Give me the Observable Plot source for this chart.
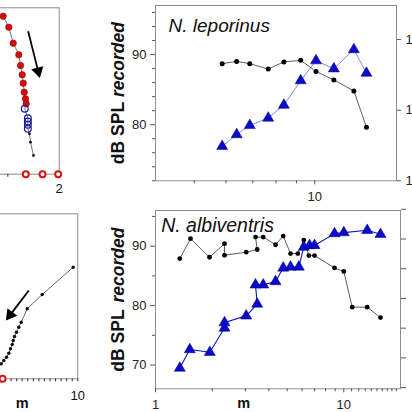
<!DOCTYPE html>
<html><head><meta charset="utf-8">
<script src="https://cdn.jsdelivr.net/npm/d3@7"></script>
<script src="https://cdn.jsdelivr.net/npm/@observablehq/plot@0.6"></script>
<style>
body{margin:0;background:#fff;}
#fig{position:relative;width:412px;height:412px;overflow:hidden;background:#fff;}
.panel{position:absolute;}
.panel svg{overflow:visible;max-width:none;}
</style></head><body><div id="fig"></div>
<script>
// ---------- Data ----------
// Top-left panel (partial view): filled red points, open blue points, small black points
const tlRedX = [1.455, 1.510, 1.553, 1.607, 1.624, 1.640, 1.650, 1.660, 1.672, 1.679];
const tlRedY = [94.95, 88.34, 78.73, 71.75, 65.32, 59.74, 54.69, 49.28, 45.31, 42.31];
const tlBlueX = [1.665, 1.695, 1.695, 1.695, 1.695];
const tlBlueY = [39.30, 33.65, 31.67, 29.69, 27.28];
const tlBlackX = [1.711, 1.721, 1.750];
const tlBlackY = [24.28, 19.23, 11.24];
const tlOpenX = [1.675, 1.838, 1.990];
const tlXTickMinor = [1.5];
const tlXTickLabel = [2];

// Bottom-left panel (partial view)
const blX = [3.112, 3.345, 3.588, 3.795, 3.948, 4.101, 4.191, 4.308, 4.487, 4.694, 4.910, 5.450, 6.799, 9.586];
const blY = [9.09, 11.09, 13.09, 15.52, 18.18, 20.79, 23.21, 25.64, 28.24, 31.27, 34.30, 42.42, 51.09, 67.64];
const blOpenX = [3.228];
const blXTickMinor = d3.range(0.5, 10, 0.5);
const blXTickLabel = [10];

// N. leporinus (top right): distance (m, log) vs dB SPL recorded
const lepDist = [5.87, 6.38, 6.88, 7.65, 8.37, 9.22, 10.07, 11.16, 12.52, 13.46];
const lepDots = [88.70, 89.03, 88.70, 87.94, 88.95, 89.18, 87.59, 86.39, 84.81, 79.65];
const lepTris = [76.91, 78.60, 79.90, 80.95, 82.79, 86.29, 89.13, 87.98, 90.72, 87.36];
const lepYMajor = [80, 90];
const lepYMinor = [72, 74, 76, 78, 82, 84, 86, 88, 92, 94, 96];
const lepXMinor = [5, 6, 7, 8, 9];
const lepXLabel = [10];
const lepRightTicks = [72, 82.06, 92.16];
const lepRightLabels = ["1", "1", "1"];   // only the leading digit is visible in the cropped figure

// N. albiventris (bottom right)
const albDotDist = [1.346, 1.534, 1.936, 2.325, 2.325, 3.031, 3.468, 3.397, 3.733, 4.339, 4.767, 5.212, 5.697, 6.132, 6.520, 6.988, 8.926, 10.0, 11.08, 13.31, 15.66];
const albDots = [87.91, 91.26, 88.13, 90.41, 88.47, 88.98, 89.44, 91.53, 91.53, 90.24, 91.70, 88.76, 88.76, 91.02, 88.42, 88.42, 86.33, 85.75, 79.74, 79.74, 77.99];
const albTriDist = [1.346, 1.521, 1.943, 2.325, 2.325, 3.031, 3.468, 3.397, 3.733, 4.339, 4.767, 5.212, 5.768, 6.132, 6.575, 6.988, 8.926, 10.0, 13.31, 15.66];
const albTris = [69.49, 72.60, 72.14, 76.22, 77.14, 78.27, 80.26, 83.49, 83.49, 84.05, 86.33, 86.50, 86.50, 89.83, 90.12, 90.12, 92.11, 92.28, 92.67, 91.99];
const albYMajor = [70, 80, 90];
const albYMinor = [75, 85, 95];
const albXMinor = [2, 3, 4, 5, 6, 7, 8, 9, 11, 12, 13, 14, 15, 16, 17, 18, 19];
const albXLabel = [1, 10];
const albRightTicks = [66.2, 71.2, 76.2, 81.2, 86.2, 91.2, 96.2];

// Annotation arrows (data units of their panels): start, head centre
const tlArrow = {x1: 1.698, y1: 85.94, x2: 1.795, y2: 61.96};
const blArrow = {x1: 5.594, y1: 53.52, x2: 3.921, y2: 38.73};

// ---------- Helpers ----------
const FONT = "'Liberation Sans', Arial, Helvetica, sans-serif";
const frameColor = "#8c8c8c";
const baseStyle = {fontFamily: FONT, fontSize: "13px", overflow: "visible", background: "transparent", maxWidth: "none", color: "#111"};
const fig = document.getElementById("fig");
function place(svg, left, top) {
  const d = document.createElement("div");
  d.className = "panel";
  d.style.left = left + "px";
  d.style.top = top + "px";
  d.appendChild(svg);
  fig.appendChild(d);
}
const zip = (xs, ys) => xs.map((x, i) => ({x, y: ys[i]}));
const blank = () => "";

function splLabel(dx, halfSpan) {
  return [
    Plot.text(["dB SPL"], {frameAnchor: "left", rotate: -90, textAnchor: "start", lineAnchor: "middle", dx, dy: halfSpan, fontWeight: "bold", fontSize: 17.5, fill: "#111"}),
    Plot.text(["recorded"], {frameAnchor: "left", rotate: -90, textAnchor: "end", lineAnchor: "middle", dx, dy: -halfSpan, fontWeight: "bold", fontStyle: "italic", fontSize: 17.5, fill: "#111"})
  ];
}

// ---------- Top-left panel ----------
const tlAll = [...zip(tlRedX, tlRedY), ...zip(tlBlueX, tlBlueY), ...zip(tlBlackX, tlBlackY)];
place(Plot.plot({
  width: 180, height: 210, marginLeft: 40.2, marginRight: 11.3, marginTop: 7.3, marginBottom: 36.3,
  style: baseStyle,
  x: {domain: [0.75, 2]}, y: {domain: [0, 100], axis: null},
  marks: [
    Plot.frame({stroke: frameColor}),
    Plot.axisX({ticks: tlXTickMinor, tickSize: 3, tickFormat: blank, stroke: "#333", label: null}),
    Plot.axisX({ticks: tlXTickLabel, tickSize: 0, tickPadding: 10, tickFormat: d => String(d), label: null, fill: "#111"}),
    Plot.line(tlAll, {x: "x", y: "y", stroke: "#555", strokeWidth: 0.8}),
    Plot.dot(zip(tlRedX, tlRedY), {x: "x", y: "y", r: 3.2, fill: "#d10f0f", stroke: "#a00000", strokeWidth: 0.6}),
    Plot.dot(zip(tlBlueX, tlBlueY), {x: "x", y: "y", r: 3.4, fill: "none", stroke: "#1a1a9a", strokeWidth: 1.2}),
    Plot.dot(zip(tlBlackX, tlBlackY), {x: "x", y: "y", r: 1.4, fill: "#111"}),
    Plot.dot(tlOpenX, {x: d => d, y: () => 0, r: 3, fill: "white", stroke: "#d41414", strokeWidth: 2}),
    Plot.link([tlArrow], {x1: "x1", y1: "y1", x2: "x2", y2: "y2", stroke: "#000", strokeWidth: 1.8}),
    Plot.dot([tlArrow], {x: "x2", y: "y2", symbol: "triangle", r: 4.6, fill: "#000", rotate: 166})
  ]
}), -110, 0);

// ---------- Bottom-left panel ----------
place(Plot.plot({
  width: 150, height: 207, marginLeft: 26.1, marginRight: 12.7, marginTop: 8.3, marginBottom: 33.7,
  style: baseStyle,
  x: {domain: [0, 10]}, y: {domain: [0, 100], axis: null},
  marks: [
    Plot.frame({stroke: frameColor}),
    Plot.axisX({ticks: blXTickMinor, tickSize: 3, tickFormat: blank, stroke: "#333", label: null}),
    Plot.axisX({ticks: blXTickLabel, tickSize: 3, tickPadding: 8.8, tickFormat: d => String(d), stroke: "#333", label: null, fill: "#111"}),
    Plot.text(["m"], {x: () => 5, frameAnchor: "bottom", dy: 29.2, lineAnchor: "bottom", fontWeight: "bold", fontSize: 14.5, fill: "#111"}),
    Plot.line(zip(blX, blY), {x: "x", y: "y", stroke: "#444", strokeWidth: 0.8}),
    Plot.dot(zip(blX, blY), {x: "x", y: "y", r: 1.7, fill: "#111"}),
    Plot.dot(blOpenX, {x: d => d, y: () => 0, r: 3, fill: "white", stroke: "#d41414", strokeWidth: 2}),
    Plot.link([blArrow], {x1: "x1", y1: "y1", x2: "x2", y2: "y2", stroke: "#000", strokeWidth: 1.8}),
    Plot.dot([blArrow], {x: "x2", y: "y2", symbol: "triangle", r: 4.6, fill: "#000", rotate: 217})
  ]
}), -60, 205);

// ---------- Top-right panel: N. leporinus ----------
const rightMapTR = new Map(lepRightTicks.map((t, i) => [t, lepRightLabels[i]]));
place(Plot.plot({
  width: 312, height: 210, marginLeft: 55, marginRight: 16, marginTop: 5, marginBottom: 29.7,
  style: baseStyle,
  x: {type: "log", domain: [4, 16]}, y: {domain: [72, 97]},
  marks: [
    Plot.frame({stroke: frameColor}),
    Plot.axisY({ticks: lepYMinor, tickSize: 3, tickFormat: blank, stroke: "#555", label: null}),
    Plot.axisY({ticks: lepYMajor, tickSize: 5, tickPadding: 4, tickFormat: d => String(d), stroke: "#555", fill: "#222", label: null}),
    Plot.axisY({anchor: "right", ticks: lepRightTicks, tickSize: 4, tickPadding: 5, tickFormat: d => rightMapTR.get(d), stroke: "#555", fill: "#222", label: null}),
    Plot.axisX({ticks: lepXMinor, tickSize: 3, tickFormat: blank, stroke: "#555", label: null}),
    Plot.axisX({ticks: lepXLabel, tickSize: 4, tickPadding: 6.5, tickFormat: d => String(d), stroke: "#555", fill: "#222", label: null}),
    ...splLabel(-37, 71),
    Plot.text(["N. leporinus"], {frameAnchor: "top-left", dx: 13, dy: 26.7, lineAnchor: "bottom", textAnchor: "start", fontStyle: "italic", fontSize: 19, fill: "#111"}),
    Plot.line(zip(lepDist, lepTris), {x: "x", y: "y", stroke: "#7a7ad8", strokeWidth: 0.9}),
    Plot.line(zip(lepDist, lepDots), {x: "x", y: "y", stroke: "#333", strokeWidth: 0.8}),
    Plot.dot(zip(lepDist, lepDots), {x: "x", y: "y", r: 2.5, fill: "#000"}),
    Plot.dot(zip(lepDist, lepTris), {x: "x", y: "y", symbol: "triangle", r: 4.1, fill: "#0a0ac8", stroke: "#000080", strokeWidth: 0.5})
  ]
}), 100, 0);

// ---------- Bottom-right panel: N. albiventris ----------
place(Plot.plot({
  width: 312, height: 207, marginLeft: 55, marginRight: 12, marginTop: 5, marginBottom: 23.7,
  style: baseStyle,
  x: {type: "log", domain: [1, 20]}, y: {domain: [66, 96]},
  marks: [
    Plot.frame({stroke: frameColor}),
    Plot.axisY({ticks: albYMinor, tickSize: 3, tickFormat: blank, stroke: "#555", label: null}),
    Plot.axisY({ticks: albYMajor, tickSize: 5, tickPadding: 4, tickFormat: d => String(d), stroke: "#555", fill: "#222", label: null}),
    Plot.axisY({anchor: "right", ticks: albRightTicks, tickSize: 5, tickPadding: 6, tickFormat: blank, stroke: "#555", label: null}),
    Plot.axisX({ticks: albXMinor, tickSize: 3, tickFormat: blank, stroke: "#555", label: null}),
    Plot.axisX({ticks: albXLabel, tickSize: 4, tickPadding: 7, tickFormat: d => String(d), stroke: "#555", fill: "#222", label: null}),
    Plot.text(["m"], {frameAnchor: "bottom-left", dx: 81.7, dy: 19, lineAnchor: "bottom", fontWeight: "bold", fontSize: 14.5, fill: "#111"}),
    ...splLabel(-37, 72),
    Plot.text(["N. albiventris"], {frameAnchor: "top-left", dx: 5.7, dy: 21, lineAnchor: "bottom", textAnchor: "start", fontStyle: "italic", fontSize: 19.5, fill: "#111"}),
    Plot.line(zip(albTriDist, albTris), {x: "x", y: "y", stroke: "#1414b4", strokeWidth: 1.1}),
    Plot.line(zip(albDotDist, albDots), {x: "x", y: "y", stroke: "#333", strokeWidth: 0.8}),
    Plot.dot(zip(albDotDist, albDots), {x: "x", y: "y", r: 2.4, fill: "#000"}),
    Plot.dot(zip(albTriDist, albTris), {x: "x", y: "y", symbol: "triangle", r: 4.1, fill: "#0a0ac8", stroke: "#000080", strokeWidth: 0.5})
  ]
}), 100, 205);
</script></body></html>
